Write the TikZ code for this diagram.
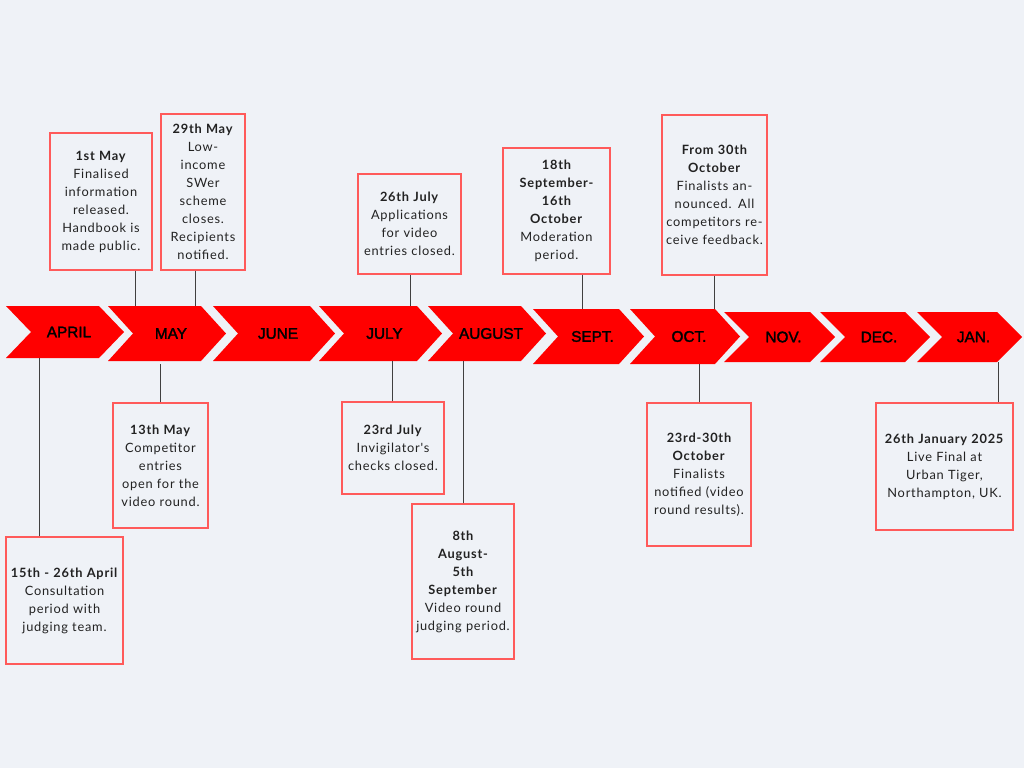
\documentclass[tikz,border=0pt]{standalone}
\usepackage{fontspec}
\setmainfont{Lato}
\newfontfamily\chevfont{Liberation Sans}[FakeBold=2]
\newfontfamily\boxfont{Lato}[LetterSpace=6]
\definecolor{bg}{HTML}{EFF2F7}
\definecolor{chev}{HTML}{FF0000}
\definecolor{bord}{HTML}{FF5A5A}
\definecolor{txt}{HTML}{222222}
\newcommand{\chevron}[6]{% name x1 x2 ytop ybot label
  \fill[chev] (#2,#4) -- ({#3-25},#4) -- (#3,{(#4+#5)/2}) -- ({#3-25},#5) -- (#2,#5) -- ({#2+25},{(#4+#5)/2}) -- cycle;
  \node[chevlabel] (#1) at ({(#2+#3)/2+4},{(#4+#5)/2}) {#6};
}
\newcommand{\evbox}[6]{% name x1 y1 x2 y2 text
  \node[evbox, minimum width={(#4-#2)*0.75pt}, minimum height={(#5-#3)*0.75pt}, text width={(#4-#2-8)*0.75pt}] (#1) at ({(#2+#4)/2},{(#3+#5)/2}) {#6};
}
\tikzset{
  chevlabel/.style={font=\chevfont\fontsize{11.5}{12}\selectfont, text=black, inner sep=0},
  evbox/.style={draw=bord, line width=0.8pt, fill=bg, align=center, inner sep=0, font=\boxfont\fontsize{9.6}{13.5}\selectfont, text=txt},
  link/.style={draw=black!75, line width=0.7pt}
}
\begin{document}
\begin{tikzpicture}[x=0.75pt,y=-0.75pt]
\fill[bg] (0,0) rectangle (1024,768);
\useasboundingbox (0,0) rectangle (1024,768);
\chevron{apr}{6}{124}{306}{358}{APRIL}
\chevron{may}{108}{226}{306}{361}{MAY}
\chevron{jun}{213}{335}{306}{361}{JUNE}
\chevron{jul}{319}{442}{306}{361}{JULY}
\chevron{aug}{428}{546}{306}{361}{AUGUST}
\chevron{sep}{533}{644}{309}{364}{SEPT.}
\chevron{oct}{630}{740}{309}{364}{OCT.}
\chevron{nov}{724}{835}{312}{362}{NOV.}
\chevron{dec}{820}{930}{312}{362}{DEC.}
\chevron{jan}{917}{1022}{312}{362}{JAN.}
% top boxes
\evbox{b1}{50}{133}{152}{270}{\textbf{1st May}\\Finalised information released. Handbook is made public.}
\evbox{b2}{161}{114}{245}{270}{\textbf{29th May}\\Low-\\income SWer scheme closes. Recipients notified.}
\evbox{b3}{358}{174}{461}{274}{\textbf{26th July}\\Applications for video entries closed.}
\evbox{b4}{503}{148}{610}{274}{\textbf{18th\\September-\\16th\\October}\\Moderation period.}
\evbox{b5}{662}{115}{767}{275}{\textbf{From 30th October}\\Finalists announced. All competitors receive feedback.}
% bottom boxes
\evbox{c1}{6}{537}{123}{664}{\textbf{15th - 26th April}\\Consultation period with judging team.}
\evbox{c2}{113}{403}{208}{528}{\textbf{13th May}\\Competitor entries open for the video round.}
\evbox{c3}{342}{402}{444}{494}{\textbf{23rd July}\\Invigilator's checks closed.}
\evbox{c4}{412}{504}{514}{659}{\textbf{8th\\August-\\5th\\September}\\Video round judging period.}
\evbox{c5}{647}{403}{751}{546}{\textbf{23rd-30th October}\\Finalists notified (video round results).}
\evbox{c6}{876}{403}{1013}{530}{\textbf{26th January 2025}\\Live Final at Urban Tiger, Northampton, UK.}
% anchor points on chevrons
\coordinate (pa) at (39,358);
\coordinate (pb) at (135,306);
\coordinate (pc) at (195,306);
\coordinate (pd) at (160,364);
\coordinate (pe) at (410,306);
\coordinate (pf) at (392,361);
\coordinate (pg) at (463,361);
\coordinate (ph) at (582,309);
\coordinate (pi) at (714,309);
\coordinate (pj) at (699,364);
\coordinate (pk) at (998,362);
\draw[link] (b1.south -| pb) -- (pb);
\draw[link] (b2.south -| pc) -- (pc);
\draw[link] (b3.south -| pe) -- (pe);
\draw[link] (b4.south -| ph) -- (ph);
\draw[link] (b5.south -| pi) -- (pi);
\draw[link] (c1.north -| pa) -- (pa);
\draw[link] (c2.north -| pd) -- (pd);
\draw[link] (c3.north -| pf) -- (pf);
\draw[link] (c4.north -| pg) -- (pg);
\draw[link] (c5.north -| pj) -- (pj);
\draw[link] (c6.north -| pk) -- (pk);
\end{tikzpicture}
\end{document}
